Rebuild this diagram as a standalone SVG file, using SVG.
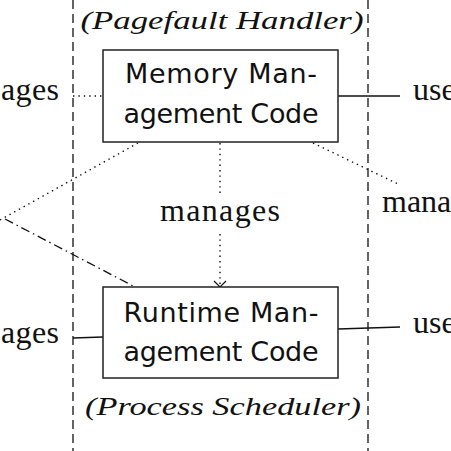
<svg xmlns="http://www.w3.org/2000/svg" width="451" height="451" viewBox="0 0 451 451">
<style>
.box{fill:#fff;stroke:#222;stroke-width:1.5}
.sans{font-family:"DejaVu Sans","Liberation Sans",sans-serif;font-size:27px;fill:#111;text-anchor:middle}
.rm{font-family:"Liberation Serif","DejaVu Serif",serif;font-size:32px;fill:#111}
.it{font-family:"Liberation Serif","DejaVu Serif",serif;font-style:italic;font-size:25px;fill:#111;text-anchor:middle}
.solid{stroke:#111;stroke-width:1.3;fill:none}
.dot{stroke:#111;stroke-width:1.4;fill:none;stroke-dasharray:1.4 4;stroke-linecap:butt}
.dashdot{stroke:#111;stroke-width:1.3;fill:none;stroke-dasharray:9 4 1.5 4}
.bound{stroke:#111;stroke-width:1.3;fill:none;stroke-dasharray:9 5}
</style>
<defs>
<marker id="arr" viewBox="0 0 12 8" refX="6" refY="7" markerWidth="12" markerHeight="8" markerUnits="userSpaceOnUse" orient="auto-start-reverse">
<path d="M1,1 L6,7 L11,1" fill="none" stroke="#111" stroke-width="1.2"/>
</marker>
</defs>
<rect width="451" height="451" fill="#fff"/>
<g id="boundaries">
<line class="bound" x1="73" y1="0" x2="73" y2="451"/>
<line class="bound" x1="368" y1="0" x2="368" y2="451"/>
</g>
<g id="connectors">
<line class="dot" x1="73" y1="96" x2="103" y2="96"/>
<line class="solid" x1="338" y1="96" x2="400" y2="96"/>
<line class="dot" x1="220" y1="143" x2="220" y2="194"/>
<line class="dot" x1="220" y1="234" x2="220" y2="286"/>
<path d="M214,281 L220,287 L226,281" fill="none" stroke="#111" stroke-width="1.2"/>
<line class="dot" x1="138" y1="143" x2="0" y2="220"/>
<line class="dot" x1="313" y1="143" x2="398" y2="184"/>
<line class="dashdot" x1="5" y1="219" x2="135" y2="287"/>
<line class="solid" x1="73" y1="338" x2="103" y2="337"/>
<line class="solid" x1="338" y1="329" x2="400" y2="327"/>
</g>
<g id="memory">
<rect class="box" x="103" y="50" width="235" height="92"/>
<text class="sans" x="221" y="83" textLength="192">Memory Man-</text>
<text class="sans" x="221" y="123" textLength="195">agement Code</text>
</g>
<g id="runtime">
<rect class="box" x="103" y="287" width="235" height="91"/>
<text class="sans" x="221" y="322" textLength="195">Runtime Man-</text>
<text class="sans" x="221" y="361" textLength="195">agement Code</text>
</g>
<g id="labels">
<text class="it" x="222" y="29" textLength="283" lengthAdjust="spacingAndGlyphs">(Pagefault Handler)</text>
<text class="it" x="223" y="415" textLength="276" lengthAdjust="spacingAndGlyphs">(Process Scheduler)</text>
<text class="rm" x="220" y="221" text-anchor="middle" textLength="120">manages</text>
<text class="rm" x="59" y="100" text-anchor="end" textLength="58">ages</text>
<text class="rm" x="59" y="343" text-anchor="end" textLength="58">ages</text>
<text class="rm" x="413" y="100">use</text>
<text class="rm" x="413" y="333">use</text>
<text class="rm" x="382" y="212">mana</text>
</g>
</svg>
